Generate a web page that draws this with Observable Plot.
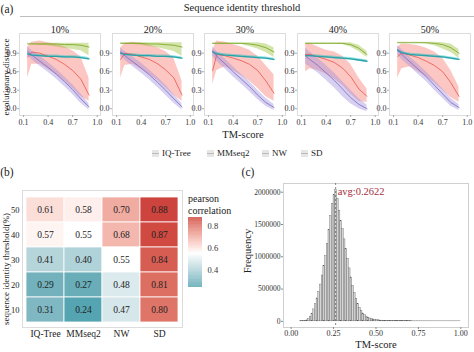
<!DOCTYPE html>
<html><head><meta charset="utf-8">
<script src="https://cdn.jsdelivr.net/npm/d3@7"></script>
<script src="https://cdn.jsdelivr.net/npm/@observablehq/plot@0.6"></script>
<style>
body{margin:0;background:#fff;}
#fig{position:relative;width:474px;height:352px;overflow:hidden;font-family:"Liberation Serif","Times New Roman",Times,"DejaVu Serif",serif;color:#222;}
.lab{position:absolute;white-space:nowrap;line-height:1;font-family:"Liberation Serif","Times New Roman",Times,"DejaVu Serif",serif;}
svg text{font-family:"Liberation Serif","Times New Roman",Times,"DejaVu Serif",serif !important;}
</style></head><body><div id="fig"></div>
<script>
// ---------- (a) data ----------
const tm = [0.15, 0.2, 0.3, 0.4, 0.5, 0.6, 0.7, 0.8, 0.9];
const thresholds = ["10%", "20%", "30%", "40%", "50%"];
const methods = ["IQ-Tree", "MMseq2", "NW", "SD"];
// each entry: [mean, lower, upper]
const iq10 = [[0.84,0.50,1.00],[0.92,0.72,1.08],[0.90,0.72,1.10],[0.85,0.64,1.07],[0.80,0.55,1.04],[0.72,0.45,1.00],[0.62,0.33,0.94],[0.48,0.20,0.84],[0.22,0.12,0.50]];
const mm10 = [[1.05,1.04,1.06],[1.05,1.04,1.06],[1.05,1.03,1.06],[1.05,1.02,1.06],[1.05,1.00,1.06],[1.04,0.98,1.06],[1.04,0.96,1.06],[1.03,0.94,1.06],[1.00,0.86,1.06]];
const nw10 = [[0.89,0.87,0.91],[0.87,0.85,0.89],[0.86,0.84,0.88],[0.85,0.83,0.87],[0.85,0.83,0.87],[0.84,0.82,0.86],[0.84,0.82,0.86],[0.83,0.81,0.85],[0.81,0.79,0.83]];
const sd10 = [[0.93,0.86,1.00],[0.87,0.80,0.94],[0.77,0.69,0.85],[0.67,0.59,0.75],[0.56,0.48,0.64],[0.44,0.36,0.52],[0.31,0.23,0.39],[0.16,0.09,0.24],[0.03,-0.02,0.08]];
const iq20 = [[0.80,0.50,0.98],[0.90,0.70,1.06],[0.88,0.72,1.08],[0.84,0.64,1.06],[0.80,0.55,1.03],[0.73,0.46,0.99],[0.63,0.34,0.93],[0.50,0.22,0.82],[0.22,0.12,0.45]];
const mm20 = [[1.06,1.05,1.07],[1.06,1.05,1.07],[1.06,1.04,1.07],[1.06,1.03,1.07],[1.05,1.01,1.07],[1.05,0.99,1.07],[1.04,0.96,1.07],[1.03,0.93,1.07],[1.00,0.85,1.07]];
const nw20 = [[0.90,0.88,0.92],[0.88,0.86,0.90],[0.87,0.85,0.89],[0.86,0.84,0.88],[0.86,0.84,0.88],[0.85,0.83,0.87],[0.85,0.83,0.87],[0.84,0.82,0.86],[0.82,0.80,0.84]];
const sd20 = [[0.92,0.85,0.99],[0.86,0.79,0.93],[0.76,0.68,0.84],[0.66,0.58,0.74],[0.55,0.47,0.63],[0.43,0.35,0.51],[0.30,0.22,0.38],[0.16,0.09,0.23],[0.03,-0.02,0.08]];
const iq30 = [[0.62,0.40,0.95],[0.88,0.62,1.10],[0.86,0.68,1.08],[0.82,0.62,1.04],[0.78,0.54,1.00],[0.72,0.45,0.95],[0.62,0.33,0.85],[0.45,0.20,0.70],[0.25,0.12,0.55]];
const mm30 = [[1.06,1.05,1.07],[1.06,1.05,1.07],[1.06,1.05,1.07],[1.06,1.05,1.07],[1.06,1.04,1.07],[1.05,1.01,1.07],[1.03,0.97,1.07],[0.99,0.91,1.05],[0.92,0.83,0.99]];
const nw30 = [[0.92,0.90,0.94],[0.89,0.87,0.91],[0.87,0.85,0.89],[0.86,0.84,0.88],[0.85,0.83,0.87],[0.84,0.82,0.86],[0.83,0.81,0.85],[0.82,0.80,0.84],[0.80,0.78,0.82]];
const sd30 = [[0.93,0.85,1.00],[0.85,0.77,0.93],[0.73,0.65,0.81],[0.60,0.52,0.68],[0.48,0.40,0.56],[0.36,0.28,0.44],[0.22,0.15,0.30],[0.10,0.04,0.17],[0.02,-0.03,0.07]];
const iq40 = [[0.88,0.60,1.05],[0.88,0.65,1.06],[0.84,0.62,1.00],[0.80,0.56,0.95],[0.75,0.48,0.92],[0.66,0.38,0.85],[0.52,0.24,0.72],[0.32,0.12,0.50],[0.20,0.10,0.32]];
const mm40 = [[1.06,1.05,1.07],[1.06,1.05,1.07],[1.06,1.05,1.07],[1.06,1.05,1.07],[1.06,1.05,1.07],[1.06,1.04,1.07],[1.04,1.00,1.07],[0.98,0.93,1.03],[0.88,0.83,0.93]];
const nw40 = [[0.86,0.84,0.88],[0.86,0.84,0.88],[0.85,0.83,0.87],[0.84,0.82,0.86],[0.83,0.81,0.85],[0.82,0.80,0.84],[0.81,0.79,0.83],[0.79,0.77,0.81],[0.77,0.75,0.79]];
const sd40 = [[0.85,0.72,0.98],[0.80,0.68,0.92],[0.70,0.58,0.82],[0.58,0.46,0.70],[0.46,0.34,0.58],[0.32,0.20,0.44],[0.18,0.08,0.30],[0.07,0.00,0.16],[0.00,-0.05,0.06]];
const iq50 = [[0.85,0.50,1.00],[0.90,0.65,1.05],[0.87,0.68,1.04],[0.83,0.60,1.02],[0.77,0.52,0.98],[0.70,0.42,0.92],[0.60,0.30,0.82],[0.42,0.18,0.62],[0.20,0.10,0.35]];
const mm50 = [[1.07,1.06,1.08],[1.07,1.06,1.08],[1.07,1.06,1.08],[1.07,1.06,1.08],[1.07,1.05,1.08],[1.06,1.02,1.08],[1.04,0.97,1.07],[0.99,0.91,1.05],[0.90,0.82,0.96]];
const nw50 = [[0.95,0.93,0.97],[0.91,0.89,0.93],[0.88,0.86,0.90],[0.87,0.85,0.89],[0.86,0.84,0.88],[0.85,0.83,0.87],[0.84,0.82,0.86],[0.82,0.80,0.84],[0.80,0.78,0.82]];
const sd50 = [[0.95,0.87,1.02],[0.88,0.80,0.96],[0.76,0.68,0.84],[0.64,0.56,0.72],[0.52,0.44,0.60],[0.38,0.30,0.46],[0.24,0.17,0.32],[0.10,0.04,0.17],[0.02,-0.03,0.07]];
const panelSeries = [[iq10,mm10,nw10,sd10],[iq20,mm20,nw20,sd20],[iq30,mm30,nw30,sd30],[iq40,mm40,nw40,sd40],[iq50,mm50,nw50,sd50]];
const bandColors = ["#F8766D", "#7CAE00", "#00BFC4", "#a08fdc"];
const bandOpacity = [0.42, 0.33, 0.42, 0.42];
const lineColors = ["#e8554d", "#72a31a", "#2aa2a8", "#7a6cc4"];

// ---------- (b) data ----------
const hmMethods = ["IQ-Tree", "MMseq2", "NW", "SD"];
const hmThresholds = ["50", "40", "30", "20", "10"];
const corrIQ = [0.61, 0.57, 0.41, 0.29, 0.31];
const corrMM = [0.58, 0.55, 0.40, 0.27, 0.24];
const corrNW = [0.70, 0.68, 0.55, 0.48, 0.47];
const corrSD = [0.88, 0.87, 0.84, 0.81, 0.80];

// ---------- (c) data ----------
const binWidth = 0.01;
const binCounts = [
  0,0,0,0,0,500,1500,3000,
  6000,15000,35000,70000,120000,185000,265000,355000,455000,570000,
  710000,860000,1010000,1200000,1410000,1630000,1820000,1960000,2030000,1900000,
  1710000,1550000,1430000,1270000,1120000,970000,820000,680000,550000,440000,
  345000,265000,205000,160000,122000,95000,74000,58000,46000,37000,30000,24000,20000,
  16000,13000,11000,9000,7500,6200,5200,4400,3700,3100,
  2600,2200,1900,1600,1400,1200,1000,900,800,700,
  600,500,450,400,350,300,260,230,200,180,
  160,140,120,100,90,80,70,60,50,40,
  35,30,25,20,18,15,12,10,6
];
const avgTM = 0.2622;

// ---------- helpers ----------
const fig = document.getElementById("fig");
const FONT = '"Liberation Serif","Times New Roman",Times,"DejaVu Serif",serif';
function place(el, left, top) {
  el.style.position = "absolute";
  el.style.left = left + "px";
  el.style.top = top + "px";
  el.style.overflow = "visible";
  fig.appendChild(el);
}
function label(text, cx, cy, size, opts = {}) {
  const d = document.createElement("div");
  d.className = "lab";
  d.textContent = text;
  d.style.left = cx + "px";
  d.style.top = cy + "px";
  d.style.fontSize = size + "px";
  if (opts.color) d.style.color = opts.color;
  d.style.transform = "translate(-50%,-50%)" + (opts.rotate ? " rotate(-90deg)" : "");
  fig.appendChild(d);
  return d;
}

// ---------- (a) small multiples ----------
const frameLefts = [19, 111.5, 204, 296.5, 389];
thresholds.forEach((t, p) => {
  const rows = [];
  panelSeries[p].forEach((arr, m) => arr.forEach((v, i) => rows.push({tm: tm[i], method: methods[m], mean: v[0], lo: v[1], hi: v[2]})));
  const marks = [Plot.frame({stroke: "#dcdcdc"})];
  methods.forEach((m, k) => marks.push(Plot.areaY(rows.filter(r => r.method === m), {x: "tm", y1: "lo", y2: "hi", fill: bandColors[k], fillOpacity: bandOpacity[k]})));
  methods.forEach((m, k) => marks.push(Plot.lineY(rows.filter(r => r.method === m), {x: "tm", y: "mean", stroke: lineColors[k], strokeWidth: k === 2 ? 1.3 : 0.8})));
  marks.push(Plot.axisX({ticks: [0.1, 0.4, 0.7, 1.0], tickFormat: ".1f", tickSize: 2, tickPadding: 2, label: null, fontSize: 8, stroke: "#aaa", fill: "#333"}));
  marks.push(Plot.axisY({ticks: [0, 0.3, 0.6, 0.9], tickFormat: ".1f", tickSize: 2, tickPadding: 1, label: null, fontSize: 8, stroke: "#aaa", fill: "#333"}));
  marks.push(Plot.text([t], {frameAnchor: "top", text: d => d, dy: -8, fontSize: 10, fill: "#222"}));
  const svg = Plot.plot({
    width: 101, height: 114, marginLeft: 18, marginRight: 2, marginTop: 16, marginBottom: 16,
    x: {domain: [0.05, 1.04]},
    y: {domain: [-0.11, 1.22]},
    style: {fontFamily: FONT, background: "transparent", overflow: "visible"},
    marks
  });
  place(svg, frameLefts[p] - 18, 17);
});

label("(a)", 7, 10, 11.5);
label("Sequence identity threshold", 242, 8, 10.5);
const hr = document.createElement("div");
hr.style.cssText = "position:absolute;left:20px;top:16px;width:454px;height:0;border-top:1px solid #bdbdbd;";
fig.appendChild(hr);
label("evolutionary distance", 6, 77, 9, {rotate: true});
label("TM-score", 243, 135, 10.5);

// legend for (a)
const legX = [152, 207, 262, 301];
methods.forEach((m, i) => {
  const sw = document.createElement("div");
  sw.style.cssText = `position:absolute;left:${legX[i]}px;top:150px;width:7px;height:7px;background:#e6e6e6;`;
  const ln = document.createElement("div");
  ln.style.cssText = "position:absolute;left:0;top:3px;width:7px;height:1px;background:#bbb;";
  sw.appendChild(ln);
  fig.appendChild(sw);
  const l = document.createElement("div");
  l.className = "lab";
  l.textContent = m;
  l.style.cssText += `left:${legX[i] + 10}px;top:149px;font-size:9px;`;
  fig.appendChild(l);
});

// ---------- (b) heatmap ----------
const corrCols = [corrIQ, corrMM, corrNW, corrSD];
const cells = [];
hmMethods.forEach((m, i) => hmThresholds.forEach((t, j) => cells.push({method: m, thr: t, v: corrCols[i][j]})));
const colorScale = {type: "linear", domain: [0.24, 0.55, 0.88], range: ["#55a4b1", "#ffffff", "#cd433d"], interpolate: "lab"};
const hm = Plot.plot({
  width: 185, height: 167, marginLeft: 22, marginRight: 3, marginTop: 5, marginBottom: 25,
  x: {domain: hmMethods, padding: 0, insetLeft: 4, insetRight: 4},
  y: {domain: hmThresholds, padding: 0, insetTop: 5, insetBottom: 4},
  color: colorScale,
  style: {fontFamily: FONT, background: "transparent", overflow: "visible"},
  marks: [
    Plot.frame({stroke: "#dcdcdc"}),
    Plot.cell(cells, {x: "method", y: "thr", fill: "v", stroke: "#fff", strokeWidth: 0.8}),
    Plot.text(cells, {x: "method", y: "thr", text: d => d.v.toFixed(2), fontSize: 9.5, fill: "#222"}),
    Plot.axisX({tickSize: 0, tickPadding: 3, label: null, fontSize: 9.5, fill: "#222"}),
    Plot.axisY({tickSize: 0, tickPadding: 3, label: null, fontSize: 8.5, fill: "#222"})
  ]
});
place(hm, 0, 185);
label("(b)", 7, 173, 11.5);
label("sequence identity threshold(%)", 6, 269, 9, {rotate: true});

// colorbar
const cbStep = 0.004;
const cbVals = d3.range(0.24, 0.88, cbStep);
const cb = Plot.plot({
  width: 40, height: 75, marginLeft: 0, marginRight: 26, marginTop: 2, marginBottom: 3,
  x: {domain: [0, 1], axis: null},
  y: {domain: [0.24, 0.88]},
  color: colorScale,
  style: {fontFamily: FONT, background: "transparent", overflow: "visible"},
  marks: [
    Plot.rect(cbVals, {x1: 0, x2: 1, y1: d => d, y2: d => Math.min(d + cbStep + 0.001, 0.88), fill: d => d + cbStep / 2}),
    Plot.axisY({anchor: "right", ticks: [0.4, 0.6, 0.8], tickFormat: ".1f", tickSize: 0, tickPadding: 5, label: null, fontSize: 8.5, fill: "#333"})
  ]
});
place(cb, 188, 215);
const lt = document.createElement("div");
lt.className = "lab";
lt.innerHTML = "pearson<br>correlation";
lt.style.cssText += "left:188px;top:193px;font-size:10px;line-height:12px;";
fig.appendChild(lt);

// ---------- (c) histogram ----------
const bins = binCounts.map((c, i) => ({x1: i * binWidth, x2: (i + 1) * binWidth, count: c}));
const hist = Plot.plot({
  width: 230, height: 170, marginLeft: 43, marginRight: 2, marginTop: 8, marginBottom: 18,
  x: {domain: [-0.045, 1.045]},
  y: {domain: [-95000, 2135000]},
  style: {fontFamily: FONT, background: "transparent", overflow: "visible"},
  marks: [
    Plot.frame({stroke: "#d0d0d0"}),
    Plot.rectY(bins, {x1: "x1", x2: "x2", y: "count", fill: "#d6d6d6", stroke: "#555", strokeWidth: 0.35}),
    Plot.ruleX([avgTM], {stroke: "#555", strokeDasharray: "2,2", strokeWidth: 0.7}),
    Plot.text([avgTM], {x: d => d, frameAnchor: "top", dy: 4, dx: 2, textAnchor: "start", text: d => "avg:" + d, fill: "#a5303d", fontSize: 10.5}),
    Plot.axisX({ticks: [0, 0.25, 0.5, 0.75, 1], tickFormat: ".2f", tickSize: 2, tickPadding: 1, label: null, fontSize: 8, stroke: "#888", fill: "#333"}),
    Plot.axisY({ticks: [0, 500000, 1000000, 1500000, 2000000], tickFormat: d => String(d), tickSize: 2, tickPadding: 1, label: null, fontSize: 7.5, stroke: "#888", fill: "#333"})
  ]
});
place(hist, 240, 175);
label("(c)", 248, 173, 11.5);
label("Frequency", 248, 251, 10.5, {rotate: true});
label("TM-score", 376, 345, 10.5);
</script></body></html>
